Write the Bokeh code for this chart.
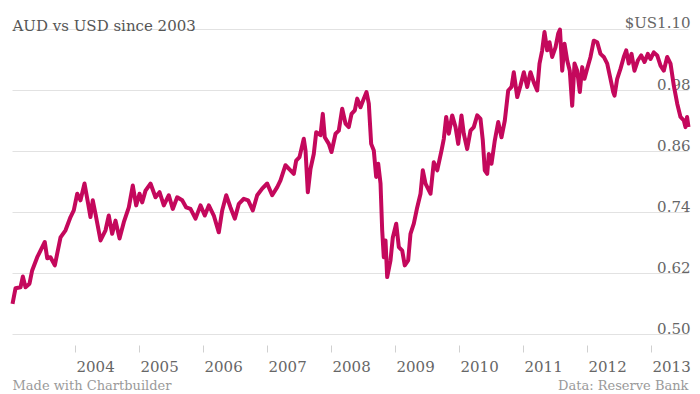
from bokeh.plotting import figure
from bokeh.models import Range1d
from bokeh.core.properties import value
from bokeh.embed import file_html
from bokeh.resources import INLINE

# ---- data (decimal year, AUD in US$) ----
years = [
    2003.016, 2003.063, 2003.141, 2003.177, 2003.219, 2003.281, 2003.323, 2003.402, 2003.453, 2003.520,
    2003.558, 2003.609, 2003.677, 2003.714, 2003.766, 2003.844, 2003.922, 2003.973, 2004.027, 2004.078,
    2004.141, 2004.198, 2004.234, 2004.270, 2004.313, 2004.391, 2004.469, 2004.520, 2004.573, 2004.625,
    2004.688, 2004.755, 2004.833, 2004.895, 2004.948, 2005.000, 2005.042, 2005.094, 2005.172, 2005.250,
    2005.313, 2005.380, 2005.458, 2005.520, 2005.589, 2005.667, 2005.730, 2005.797, 2005.875, 2005.953,
    2006.020, 2006.083, 2006.161, 2006.239, 2006.292, 2006.355, 2006.422, 2006.489, 2006.552, 2006.630,
    2006.698, 2006.770, 2006.839, 2006.917, 2006.995, 2007.073, 2007.152, 2007.203, 2007.281, 2007.359,
    2007.411, 2007.448, 2007.500, 2007.567, 2007.594, 2007.630, 2007.672, 2007.723, 2007.761, 2007.828,
    2007.864, 2007.895, 2007.958, 2008.000, 2008.063, 2008.114, 2008.167, 2008.219, 2008.270, 2008.313,
    2008.364, 2008.402, 2008.453, 2008.505, 2008.547, 2008.583, 2008.620, 2008.661, 2008.698, 2008.730,
    2008.766, 2008.792, 2008.817, 2008.844, 2008.870, 2008.922, 2008.958, 2009.011, 2009.052, 2009.105,
    2009.145, 2009.198, 2009.234, 2009.286, 2009.339, 2009.391, 2009.427, 2009.469, 2009.547, 2009.598,
    2009.652, 2009.719, 2009.755, 2009.792, 2009.833, 2009.886, 2009.938, 2009.980, 2010.031, 2010.067,
    2010.120, 2010.172, 2010.223, 2010.277, 2010.328, 2010.364, 2010.395, 2010.433, 2010.458, 2010.500,
    2010.552, 2010.605, 2010.656, 2010.708, 2010.761, 2010.813, 2010.848, 2010.902, 2010.953, 2011.005,
    2011.058, 2011.109, 2011.161, 2011.214, 2011.250, 2011.292, 2011.328, 2011.370, 2011.406, 2011.448,
    2011.500, 2011.542, 2011.570, 2011.605, 2011.641, 2011.683, 2011.723, 2011.761, 2011.797, 2011.839,
    2011.880, 2011.917, 2011.953, 2011.995, 2012.047, 2012.098, 2012.152, 2012.203, 2012.255, 2012.308,
    2012.359, 2012.402, 2012.422, 2012.464, 2012.516, 2012.567, 2012.605, 2012.645, 2012.688, 2012.734,
    2012.786, 2012.839, 2012.891, 2012.942, 2012.984, 2013.036, 2013.089, 2013.141, 2013.192, 2013.245,
    2013.297, 2013.348, 2013.402, 2013.453, 2013.505, 2013.531, 2013.556, 2013.578,
]
aud_usd = [
    0.560, 0.591, 0.593, 0.614, 0.593, 0.600, 0.626, 0.652, 0.665, 0.682,
    0.650, 0.652, 0.636, 0.659, 0.691, 0.705, 0.731, 0.744, 0.777, 0.764,
    0.797, 0.757, 0.731, 0.764, 0.737, 0.685, 0.705, 0.734, 0.698, 0.724,
    0.689, 0.721, 0.750, 0.793, 0.754, 0.777, 0.760, 0.783, 0.797, 0.770,
    0.780, 0.754, 0.774, 0.747, 0.770, 0.764, 0.750, 0.747, 0.728, 0.754,
    0.734, 0.754, 0.734, 0.701, 0.744, 0.774, 0.750, 0.728, 0.757, 0.767,
    0.764, 0.744, 0.774, 0.787, 0.797, 0.774, 0.790, 0.803, 0.833, 0.823,
    0.816, 0.842, 0.849, 0.885, 0.862, 0.780, 0.826, 0.855, 0.898, 0.892,
    0.934, 0.888, 0.875, 0.859, 0.895, 0.901, 0.944, 0.915, 0.908, 0.934,
    0.941, 0.964, 0.947, 0.964, 0.977, 0.954, 0.875, 0.862, 0.810, 0.836,
    0.797, 0.705, 0.652, 0.685, 0.613, 0.646, 0.691, 0.718, 0.672, 0.665,
    0.636, 0.646, 0.698, 0.718, 0.750, 0.777, 0.823, 0.797, 0.777, 0.839,
    0.823, 0.862, 0.885, 0.928, 0.895, 0.931, 0.908, 0.875, 0.931, 0.895,
    0.865, 0.901, 0.908, 0.931, 0.924, 0.882, 0.823, 0.816, 0.855, 0.836,
    0.882, 0.918, 0.888, 0.921, 0.980, 0.987, 1.016, 0.967, 0.990, 1.016,
    0.987, 1.016, 0.996, 0.980, 1.033, 1.059, 1.095, 1.059, 1.075, 1.046,
    1.065, 1.092, 1.100, 1.019, 1.072, 1.039, 1.019, 0.950, 1.033, 1.019,
    0.977, 1.026, 1.003, 1.023, 1.046, 1.078, 1.075, 1.052, 1.046, 1.033,
    1.003, 0.977, 0.970, 1.003, 1.023, 1.046, 1.059, 1.033, 1.052, 1.019,
    1.039, 1.049, 1.036, 1.052, 1.042, 1.055, 1.049, 1.029, 1.019, 1.046,
    1.033, 0.990, 0.954, 0.928, 0.921, 0.908, 0.928, 0.908,
]
y_ticks = [0.50, 0.62, 0.74, 0.86, 0.98, 1.10]
y_tick_labels = ["0.50", "0.62", "0.74", "0.86", "0.98", "$US1.10"]
x_ticks = [2004, 2005, 2006, 2007, 2008, 2009, 2010, 2011, 2012, 2013]
x_tick_labels = [str(t) for t in x_ticks]
title_text = "AUD vs USD since 2003"
credit_text = "Made with Chartbuilder"
source_text = "Data: Reserve Bank"

# ---- layout (figure fills the 700x394 page) ----
W, H = 700, 394
X0, X1 = 2002.828125, 2013.765625
Y0, Y1 = 0.381967, 1.157049

def page_x(px):
    return X0 + px * (X1 - X0) / W

def page_y(py):
    return Y1 - py * (Y1 - Y0) / H

FONT = value("DejaVu Serif")
LINE_COLOR = "#c4085c"

p = figure(width=W, height=H, output_backend="svg", toolbar_location=None,
           x_range=Range1d(X0, X1), y_range=Range1d(Y0, Y1),
           x_axis_location=None, y_axis_location=None, min_border=0)
p.grid.visible = False
p.outline_line_color = None
p.background_fill_color = "white"
p.border_fill_color = "white"

# horizontal gridlines across the data extent
n = len(y_ticks)
p.segment(x0=[years[0]] * n, y0=y_ticks, x1=[years[-1]] * n, y1=y_ticks,
          line_color="#e2e2e2", line_width=1)

# x tick marks
m = len(x_ticks)
p.segment(x0=x_ticks, x1=x_ticks, y0=[page_y(345)] * m, y1=[page_y(352)] * m,
          line_color="#d0d0d0", line_width=1)

# y tick labels (inside, above gridlines, right-aligned)
p.text(x=[years[-1]] * n, y=y_ticks, text=y_tick_labels,
       text_align="right", text_baseline="alphabetic", x_offset=2, y_offset=-6,
       text_font=FONT, text_font_size="15px", text_color="#666666")

# x tick labels
p.text(x=x_ticks, y=[page_y(366)] * m, text=x_tick_labels,
       text_align="left", text_baseline="alphabetic", x_offset=1,
       text_font=FONT, text_font_size="15px", text_color="#666666")

# title
p.text(x=[page_x(12)], y=[page_y(25)], text=[title_text],
       text_align="left", text_baseline="alphabetic",
       text_font=FONT, text_font_size="15px", text_color="#555555")

# footer
p.text(x=[page_x(12)], y=[page_y(385)], text=[credit_text],
       text_align="left", text_baseline="alphabetic",
       text_font=FONT, text_font_size="13px", text_color="#9a9a9a")
p.text(x=[page_x(688)], y=[page_y(385)], text=[source_text],
       text_align="right", text_baseline="alphabetic",
       text_font=FONT, text_font_size="13px", text_color="#9a9a9a")

# the series
p.line(years, aud_usd, line_color=LINE_COLOR, line_width=4, line_join="round")

open("out.html", "w").write(file_html(p, INLINE))
